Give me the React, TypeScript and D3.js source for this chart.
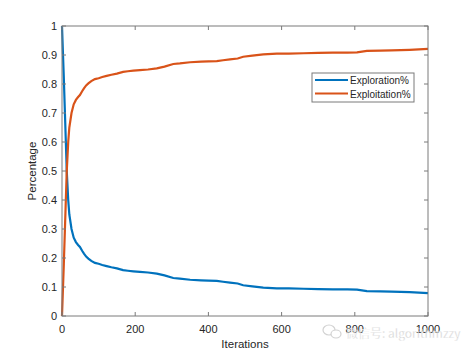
import React from "react";
import * as d3 from "d3";

const iterations = [0, 5, 10, 13, 17, 20, 26, 32, 38, 44, 49, 55, 60, 66, 72, 80, 90, 100, 110, 122, 135, 150, 167, 180, 195, 213, 235, 259, 280, 304, 322, 350, 380, 400, 423, 440, 459, 480, 495, 520, 550, 587, 620, 660, 700, 740, 780, 806, 833, 870, 900, 950, 1000];
const exploitation = [0, 0.18, 0.38, 0.5, 0.6, 0.65, 0.7, 0.73, 0.745, 0.755, 0.762, 0.775, 0.785, 0.795, 0.802, 0.81, 0.817, 0.82, 0.824, 0.828, 0.832, 0.836, 0.842, 0.844, 0.846, 0.848, 0.85, 0.854, 0.86, 0.869, 0.871, 0.875, 0.877, 0.878, 0.879, 0.882, 0.885, 0.888, 0.894, 0.898, 0.902, 0.905, 0.905, 0.906, 0.907, 0.908, 0.908, 0.909, 0.914, 0.915, 0.916, 0.918, 0.921];
const exploration = [1, 0.82, 0.62, 0.5, 0.4, 0.35, 0.3, 0.27, 0.255, 0.245, 0.238, 0.225, 0.215, 0.205, 0.198, 0.19, 0.183, 0.18, 0.176, 0.172, 0.168, 0.164, 0.158, 0.156, 0.154, 0.152, 0.15, 0.146, 0.14, 0.131, 0.129, 0.125, 0.123, 0.122, 0.121, 0.118, 0.115, 0.112, 0.106, 0.102, 0.098, 0.095, 0.095, 0.094, 0.093, 0.092, 0.092, 0.091, 0.086, 0.085, 0.084, 0.082, 0.079];
const xTicks = [0, 200, 400, 600, 800, 1000];
const yTicks = [0, 0.1, 0.2, 0.3, 0.4, 0.5, 0.6, 0.7, 0.8, 0.9, 1];
const seriesNames = ["Exploration%", "Exploitation%"];
const colors = ["#0072BD", "#D95319"];

export default function App() {
  const left = 62, right = 428, top = 26, bottom = 316;
  const x = d3.scaleLinear().domain([0, 1000]).range([left, right]);
  const y = d3.scaleLinear().domain([0, 1]).range([bottom, top]);
  const line = d3.line<number>().x((_, i) => x(iterations[i])).y((d) => y(d));
  const axisColor = "#7a7a7a";
  const textColor = "#262626";
  const font = "Liberation Sans, Arial, sans-serif";
  const tl = 4;
  return (
    <svg width={474} height={355} style={{ position: "absolute", left: 0, top: 0, background: "#fff" }} fontFamily={font}>
      <rect x={0} y={0} width={474} height={355} fill="#fff" />
      <path d={line(exploration) || ""} fill="none" stroke={colors[0]} strokeWidth={2.2} />
      <path d={line(exploitation) || ""} fill="none" stroke={colors[1]} strokeWidth={2.2} />
      <rect x={left} y={top} width={right - left} height={bottom - top} fill="none" stroke={axisColor} strokeWidth={1} />
      {xTicks.map((t) => (
        <g key={"x" + t}>
          <line x1={x(t)} x2={x(t)} y1={bottom} y2={bottom - tl} stroke={axisColor} />
          <line x1={x(t)} x2={x(t)} y1={top} y2={top + tl} stroke={axisColor} />
          <text x={x(t)} y={333} textAnchor="middle" fontSize={11} fill={textColor}>{t}</text>
        </g>
      ))}
      {yTicks.map((t) => (
        <g key={"y" + t}>
          <line x1={left} x2={left + tl} y1={y(t)} y2={y(t)} stroke={axisColor} />
          <line x1={right} x2={right - tl} y1={y(t)} y2={y(t)} stroke={axisColor} />
          <text x={57} y={y(t) + 4} textAnchor="end" fontSize={11} fill={textColor}>{String(t)}</text>
        </g>
      ))}
      <text x={245} y={348} textAnchor="middle" fontSize={11.5} fill={textColor}>Iterations</text>
      <text transform={`translate(36,${(top + bottom) / 2}) rotate(-90)`} textAnchor="middle" fontSize={11.5} fill={textColor}>Percentage</text>
      <g>
        <rect x={312} y={73} width={102} height={29} fill="#fff" stroke={axisColor} strokeWidth={1} />
        {seriesNames.map((n, i) => (
          <g key={n}>
            <line x1={315} x2={348} y1={80 + i * 13.5} y2={80 + i * 13.5} stroke={colors[i]} strokeWidth={2.2} />
            <text x={350} y={84 + i * 13.5} fontSize={10} fill={textColor}>{n}</text>
          </g>
        ))}
      </g>
      <g opacity={0.75}>
        <ellipse cx={329} cy={330} rx={6} ry={5} fill="none" stroke="#c4c4c4" strokeWidth={1.2} />
        <ellipse cx={336} cy={334} rx={5} ry={4} fill="#fff" stroke="#c4c4c4" strokeWidth={1.2} />
        <text x={346} y={338} fontSize={12} fill="#c0c0c0" stroke="#fff" strokeWidth={0.3} fontFamily="Noto Sans CJK SC, sans-serif">微信号: algorithmzzy</text>
      </g>
    </svg>
  );
}
